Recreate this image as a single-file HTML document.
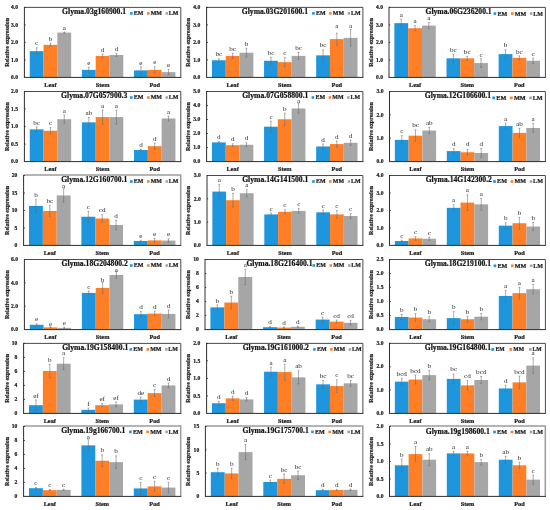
<!DOCTYPE html>
<html lang="en"><head><meta charset="utf-8"><title>Relative expression of Glyma genes</title>
<style>
html,body{margin:0;padding:0;background:#fff;}
body{width:550px;height:510px;overflow:hidden;}
svg{display:block;font-family:"Liberation Serif","DejaVu Serif",serif;}
.fr{fill:none;stroke:#4a4a4a;stroke-width:1;}
.frl{fill:none;stroke:#9c9c9c;stroke-width:1.5;}
.ax{fill:none;stroke:#2e2e2e;stroke-width:1;}
text{stroke-linejoin:round;}
.eb{fill:none;stroke:#6a6a6a;stroke-width:0.55;}
.lt{font-size:7.1px;text-anchor:middle;fill:#2a2a2a;}
.tk{font-size:5.6px;font-weight:bold;text-anchor:end;fill:#222;stroke:#222;stroke-width:.22;}
.yt{font-size:5.95px;font-weight:bold;text-anchor:middle;fill:#222;stroke:#222;stroke-width:.22;}
.ti{font-size:7.65px;font-weight:bold;text-anchor:end;fill:#111;stroke:#111;stroke-width:.2;}
.lg{font-size:6px;font-weight:bold;fill:#222;stroke:#222;stroke-width:.2;}
.ct{font-size:6.3px;font-weight:bold;text-anchor:middle;fill:#222;stroke:#222;stroke-width:.22;}
</style></head>
<body>
<svg width="550" height="510" viewBox="0 0 550 510">
<rect width="550" height="510" fill="#fff"/>
<g class="panel">
<rect x="29.76" y="51.15" width="13.8" height="26.25" fill="#1E96DD"/>
<rect x="43.57" y="44.85" width="13.8" height="32.55" fill="#FF7F27"/>
<rect x="57.37" y="32.6" width="13.8" height="44.8" fill="#A6A6A6"/>
<rect x="81.9" y="69.88" width="13.8" height="7.52" fill="#1E96DD"/>
<rect x="95.7" y="55.88" width="13.8" height="21.52" fill="#FF7F27"/>
<rect x="109.5" y="55" width="13.8" height="22.4" fill="#A6A6A6"/>
<rect x="134.03" y="70.4" width="13.8" height="7" fill="#1E96DD"/>
<rect x="147.83" y="69.88" width="13.8" height="7.52" fill="#FF7F27"/>
<rect x="161.63" y="72.15" width="13.8" height="5.25" fill="#A6A6A6"/>
<path class="eb" d="M36.66 47.83V54.48M35.76 47.83h1.8M35.76 54.48h1.8"/>
<text class="lt" x="36.66" y="45.43">c</text>
<path class="eb" d="M50.47 43.27V46.43M49.57 43.27h1.8M49.57 46.43h1.8"/>
<text class="lt" x="50.47" y="40.88">b</text>
<path class="eb" d="M64.27 32.08V33.12M63.37 32.08h1.8M63.37 33.12h1.8"/>
<text class="lt" x="64.27" y="29.68">a</text>
<path class="eb" d="M88.8 67.25V72.5M87.9 67.25h1.8M87.9 72.5h1.8"/>
<text class="lt" x="88.8" y="64.85">e</text>
<path class="eb" d="M102.6 54.13V57.63M101.7 54.13h1.8M101.7 57.63h1.8"/>
<text class="lt" x="102.6" y="51.73">d</text>
<path class="eb" d="M116.4 53.6V56.4M115.5 53.6h1.8M115.5 56.4h1.8"/>
<text class="lt" x="116.4" y="51.2">d</text>
<path class="eb" d="M140.93 66.9V73.9M140.03 66.9h1.8M140.03 73.9h1.8"/>
<text class="lt" x="140.93" y="64.5">e</text>
<path class="eb" d="M154.73 66.72V73.03M153.83 66.72h1.8M153.83 73.03h1.8"/>
<text class="lt" x="154.73" y="64.32">e</text>
<path class="eb" d="M168.54 69.53V74.78M167.64 69.53h1.8M167.64 74.78h1.8"/>
<text class="lt" x="168.54" y="67.12">e</text>
<path class="fr" d="M24.4 7.4H180.8V77.4"/>
<path class="ax" d="M24.4 6.9V77.4"/>
<path class="ax" d="M23.9 77.4H181.3"/>
<text class="tk" x="18" y="79.1">0.0</text>
<text class="tk" x="18" y="61.6">1.0</text>
<path class="ax" d="M24.4 59.9h1.2"/>
<text class="tk" x="18" y="44.1">2.0</text>
<path class="ax" d="M24.4 42.4h1.2"/>
<text class="tk" x="18" y="26.6">3.0</text>
<path class="ax" d="M24.4 24.9h1.2"/>
<text class="tk" x="18" y="9.1">4.0</text>
<path class="ax" d="M24.4 7.4h1.2"/>
<text class="yt" transform="translate(8.6 42.4) rotate(-90)">Relative expression</text>
<text class="ti" x="126.2" y="14.1">Glyma.03g160900.1</text>
<rect x="130" y="12.1" width="2.6" height="2.6" fill="#1E96DD"/>
<text class="lg" style="font-size:6px" x="133.8" y="15.3">EM</text>
<rect x="147" y="12.1" width="2.6" height="2.6" fill="#FF7F27"/>
<text class="lg" style="font-size:6px" x="150.7" y="15.3">MM</text>
<rect x="165.5" y="12.1" width="2.6" height="2.6" fill="#A6A6A6"/>
<text class="lg" style="font-size:6px" x="168.8" y="15.3">LM</text>
<text class="ct" x="50.47" y="86.7">Leaf</text>
<text class="ct" x="102.6" y="86.7">Stem</text>
<text class="ct" x="154.73" y="86.7">Pod</text>
</g>
<g class="panel">
<rect x="211.96" y="60.25" width="13.79" height="17.15" fill="#1E96DD"/>
<rect x="225.75" y="55.88" width="13.79" height="21.52" fill="#FF7F27"/>
<rect x="239.55" y="52.73" width="13.79" height="24.67" fill="#A6A6A6"/>
<rect x="264.06" y="60.78" width="13.79" height="16.62" fill="#1E96DD"/>
<rect x="277.85" y="62.18" width="13.79" height="15.22" fill="#FF7F27"/>
<rect x="291.65" y="55.88" width="13.79" height="21.52" fill="#A6A6A6"/>
<rect x="316.16" y="55.35" width="13.79" height="22.05" fill="#1E96DD"/>
<rect x="329.95" y="39.08" width="13.79" height="38.32" fill="#FF7F27"/>
<rect x="343.75" y="37.85" width="13.79" height="39.55" fill="#A6A6A6"/>
<path class="eb" d="M218.86 58.68V61.83M217.96 58.68h1.8M217.96 61.83h1.8"/>
<text class="lt" x="218.86" y="56.28">bc</text>
<path class="eb" d="M232.65 53.25V58.5M231.75 53.25h1.8M231.75 58.5h1.8"/>
<text class="lt" x="232.65" y="50.85">bc</text>
<path class="eb" d="M246.44 48.35V57.1M245.54 48.35h1.8M245.54 57.1h1.8"/>
<text class="lt" x="246.44" y="45.95">b</text>
<path class="eb" d="M270.96 57.28V64.28M270.06 57.28h1.8M270.06 64.28h1.8"/>
<text class="lt" x="270.96" y="54.88">bc</text>
<path class="eb" d="M284.75 57.63V66.73M283.85 57.63h1.8M283.85 66.73h1.8"/>
<text class="lt" x="284.75" y="55.23">c</text>
<path class="eb" d="M298.54 52.38V59.38M297.64 52.38h1.8M297.64 59.38h1.8"/>
<text class="lt" x="298.54" y="49.98">bc</text>
<path class="eb" d="M323.06 49.75V60.95M322.16 49.75h1.8M322.16 60.95h1.8"/>
<text class="lt" x="323.06" y="47.35">bc</text>
<path class="eb" d="M336.85 33.13V45.03M335.95 33.13h1.8M335.95 45.03h1.8"/>
<text class="lt" x="336.85" y="28.23">a</text>
<path class="eb" d="M350.64 29.63V46.08M349.74 29.63h1.8M349.74 46.08h1.8"/>
<text class="lt" x="350.64" y="28.03">a</text>
<path class="fr" d="M206.6 7.4H362.9V77.4"/>
<path class="ax" d="M206.6 6.9V77.4"/>
<path class="ax" d="M206.1 77.4H363.4"/>
<text class="tk" x="200.3" y="79.1">0.0</text>
<text class="tk" x="200.3" y="61.6">1.0</text>
<path class="ax" d="M206.6 59.9h1.2"/>
<text class="tk" x="200.3" y="44.1">2.0</text>
<path class="ax" d="M206.6 42.4h1.2"/>
<text class="tk" x="200.3" y="26.6">3.0</text>
<path class="ax" d="M206.6 24.9h1.2"/>
<text class="tk" x="200.3" y="9.1">4.0</text>
<path class="ax" d="M206.6 7.4h1.2"/>
<text class="yt" transform="translate(189.7 42.4) rotate(-90)">Relative expression</text>
<text class="ti" x="308" y="14.1">Glyma.03G201600.1</text>
<rect x="312.1" y="12.1" width="2.6" height="2.6" fill="#1E96DD"/>
<text class="lg" style="font-size:6px" x="315.9" y="15.3">EM</text>
<rect x="329.1" y="12.1" width="2.6" height="2.6" fill="#FF7F27"/>
<text class="lg" style="font-size:6px" x="332.8" y="15.3">MM</text>
<rect x="347.6" y="12.1" width="2.6" height="2.6" fill="#A6A6A6"/>
<text class="lg" style="font-size:6px" x="350.9" y="15.3">LM</text>
<text class="ct" x="232.65" y="86.7">Leaf</text>
<text class="ct" x="284.75" y="86.7">Stem</text>
<text class="ct" x="336.85" y="86.7">Pod</text>
</g>
<g class="panel">
<rect x="394.36" y="23.15" width="13.8" height="54.25" fill="#1E96DD"/>
<rect x="408.17" y="28.23" width="13.8" height="49.18" fill="#FF7F27"/>
<rect x="421.97" y="25.6" width="13.8" height="51.8" fill="#A6A6A6"/>
<rect x="446.5" y="58.33" width="13.8" height="19.08" fill="#1E96DD"/>
<rect x="460.3" y="58.33" width="13.8" height="19.08" fill="#FF7F27"/>
<rect x="474.1" y="63.05" width="13.8" height="14.35" fill="#A6A6A6"/>
<rect x="498.63" y="54.12" width="13.8" height="23.28" fill="#1E96DD"/>
<rect x="512.43" y="57.8" width="13.8" height="19.6" fill="#FF7F27"/>
<rect x="526.23" y="60.78" width="13.8" height="16.62" fill="#A6A6A6"/>
<path class="eb" d="M401.26 19.13V27.18M400.36 19.13h1.8M400.36 27.18h1.8"/>
<text class="lt" x="401.26" y="16.73">a</text>
<path class="eb" d="M415.07 25.6V30.85M414.17 25.6h1.8M414.17 30.85h1.8"/>
<text class="lt" x="415.07" y="23.2">a</text>
<path class="eb" d="M428.87 22.63V28.58M427.97 22.63h1.8M427.97 28.58h1.8"/>
<text class="lt" x="428.87" y="20.23">a</text>
<path class="eb" d="M453.4 54.12V62.53M452.5 54.12h1.8M452.5 62.53h1.8"/>
<text class="lt" x="453.4" y="51.73">bc</text>
<path class="eb" d="M467.2 56.4V60.25M466.3 56.4h1.8M466.3 60.25h1.8"/>
<text class="lt" x="467.2" y="54">bc</text>
<path class="eb" d="M481 58.68V67.43M480.1 58.68h1.8M480.1 67.43h1.8"/>
<text class="lt" x="481" y="57.28">c</text>
<path class="eb" d="M505.53 49.75V58.5M504.63 49.75h1.8M504.63 58.5h1.8"/>
<text class="lt" x="505.53" y="47.35">b</text>
<path class="eb" d="M519.33 55.88V59.73M518.43 55.88h1.8M518.43 59.73h1.8"/>
<text class="lt" x="519.33" y="54.48">bc</text>
<path class="eb" d="M533.14 58.15V63.4M532.24 58.15h1.8M532.24 63.4h1.8"/>
<text class="lt" x="533.14" y="55.75">c</text>
<path class="fr" d="M389 7.4H545.4V77.4"/>
<path class="ax" d="M389 6.9V77.4"/>
<path class="ax" d="M388.5 77.4H545.9"/>
<text class="tk" x="383" y="79.1">0.0</text>
<text class="tk" x="383" y="61.6">1.0</text>
<path class="ax" d="M389 59.9h1.2"/>
<text class="tk" x="383" y="44.1">2.0</text>
<path class="ax" d="M389 42.4h1.2"/>
<text class="tk" x="383" y="26.6">3.0</text>
<path class="ax" d="M389 24.9h1.2"/>
<text class="tk" x="383" y="9.1">4.0</text>
<path class="ax" d="M389 7.4h1.2"/>
<text class="yt" transform="translate(373.4 42.4) rotate(-90)">Relative expression</text>
<text class="ti" x="491.7" y="14.1">Glyma.06G236200.1</text>
<rect x="493.62" y="12.27" width="2.65" height="2.65" fill="#1E96DD"/>
<text class="lg" style="font-size:6.12px" x="497.5" y="15.54">EM</text>
<rect x="510.96" y="12.27" width="2.65" height="2.65" fill="#FF7F27"/>
<text class="lg" style="font-size:6.12px" x="514.74" y="15.54">MM</text>
<rect x="529.83" y="12.27" width="2.65" height="2.65" fill="#A6A6A6"/>
<text class="lg" style="font-size:6.12px" x="533.2" y="15.54">LM</text>
<text class="ct" x="415.07" y="86.7">Leaf</text>
<text class="ct" x="467.2" y="86.7">Stem</text>
<text class="ct" x="519.33" y="86.7">Pod</text>
</g>
<g class="panel">
<rect x="29.76" y="129.35" width="13.8" height="32.25" fill="#1E96DD"/>
<rect x="43.57" y="130.76" width="13.8" height="30.84" fill="#FF7F27"/>
<rect x="57.37" y="119.19" width="13.8" height="42.41" fill="#A6A6A6"/>
<rect x="81.9" y="122.34" width="13.8" height="39.26" fill="#1E96DD"/>
<rect x="95.7" y="117.09" width="13.8" height="44.51" fill="#FF7F27"/>
<rect x="109.5" y="117.09" width="13.8" height="44.51" fill="#A6A6A6"/>
<rect x="134.03" y="150.03" width="13.8" height="11.57" fill="#1E96DD"/>
<rect x="147.83" y="146.18" width="13.8" height="15.42" fill="#FF7F27"/>
<rect x="161.63" y="118.49" width="13.8" height="43.11" fill="#A6A6A6"/>
<path class="eb" d="M36.66 126.9V131.81M35.76 126.9h1.8M35.76 131.81h1.8"/>
<text class="lt" x="36.66" y="124.5">bc</text>
<path class="eb" d="M50.47 127.6V133.91M49.57 127.6h1.8M49.57 133.91h1.8"/>
<text class="lt" x="50.47" y="125.2">c</text>
<path class="eb" d="M64.27 114.98V123.4M63.37 114.98h1.8M63.37 123.4h1.8"/>
<text class="lt" x="64.27" y="112.58">a</text>
<path class="eb" d="M88.8 117.44V127.25M87.9 117.44h1.8M87.9 127.25h1.8"/>
<text class="lt" x="88.8" y="115.04">ab</text>
<path class="eb" d="M102.6 110.08V124.1M101.7 110.08h1.8M101.7 124.1h1.8"/>
<text class="lt" x="102.6" y="107.68">a</text>
<path class="eb" d="M116.4 110.08V124.1M115.5 110.08h1.8M115.5 124.1h1.8"/>
<text class="lt" x="116.4" y="107.68">a</text>
<path class="eb" d="M140.93 149.33V150.73M140.03 149.33h1.8M140.03 150.73h1.8"/>
<text class="lt" x="140.93" y="146.93">d</text>
<path class="eb" d="M154.73 143.02V149.33M153.83 143.02h1.8M153.83 149.33h1.8"/>
<text class="lt" x="154.73" y="140.62">d</text>
<path class="eb" d="M168.54 116.03V120.94M167.64 116.03h1.8M167.64 120.94h1.8"/>
<text class="lt" x="168.54" y="113.63">a</text>
<path class="fr" d="M24.4 91.5H180.8V161.6"/>
<path class="ax" d="M24.4 91V161.6"/>
<path class="ax" d="M23.9 161.6H181.3"/>
<text class="tk" x="18" y="163.3">0.0</text>
<text class="tk" x="18" y="145.77">0.5</text>
<path class="ax" d="M24.4 144.07h1.2"/>
<text class="tk" x="18" y="128.25">1.0</text>
<path class="ax" d="M24.4 126.55h1.2"/>
<text class="tk" x="18" y="110.73">1.5</text>
<path class="ax" d="M24.4 109.03h1.2"/>
<text class="tk" x="18" y="93.2">2.0</text>
<path class="ax" d="M24.4 91.5h1.2"/>
<text class="yt" transform="translate(8.6 126.55) rotate(-90)">Relative expression</text>
<text class="ti" x="127.3" y="98.2">Glyma.07G057900.3</text>
<rect x="130" y="96.2" width="2.6" height="2.6" fill="#1E96DD"/>
<text class="lg" style="font-size:6px" x="133.8" y="99.4">EM</text>
<rect x="147" y="96.2" width="2.6" height="2.6" fill="#FF7F27"/>
<text class="lg" style="font-size:6px" x="150.7" y="99.4">MM</text>
<rect x="165.5" y="96.2" width="2.6" height="2.6" fill="#A6A6A6"/>
<text class="lg" style="font-size:6px" x="168.8" y="99.4">LM</text>
<text class="ct" x="50.47" y="170.9">Leaf</text>
<text class="ct" x="102.6" y="170.9">Stem</text>
<text class="ct" x="154.73" y="170.9">Pod</text>
</g>
<g class="panel">
<rect x="211.96" y="142.39" width="13.79" height="19.21" fill="#1E96DD"/>
<rect x="225.75" y="145.2" width="13.79" height="16.4" fill="#FF7F27"/>
<rect x="239.55" y="144.78" width="13.79" height="16.82" fill="#A6A6A6"/>
<rect x="264.06" y="126.69" width="13.79" height="34.91" fill="#1E96DD"/>
<rect x="277.85" y="119.26" width="13.79" height="42.34" fill="#FF7F27"/>
<rect x="291.65" y="108.46" width="13.79" height="53.14" fill="#A6A6A6"/>
<rect x="316.16" y="146.46" width="13.79" height="15.14" fill="#1E96DD"/>
<rect x="329.95" y="144.07" width="13.79" height="17.52" fill="#FF7F27"/>
<rect x="343.75" y="142.81" width="13.79" height="18.79" fill="#A6A6A6"/>
<path class="eb" d="M218.86 141.69V143.09M217.96 141.69h1.8M217.96 143.09h1.8"/>
<text class="lt" x="218.86" y="139.29">d</text>
<path class="eb" d="M232.65 143.79V146.6M231.75 143.79h1.8M231.75 146.6h1.8"/>
<text class="lt" x="232.65" y="141.39">d</text>
<path class="eb" d="M246.44 142.81V146.74M245.54 142.81h1.8M245.54 146.74h1.8"/>
<text class="lt" x="246.44" y="140.41">d</text>
<path class="eb" d="M270.96 121.22V132.16M270.06 121.22h1.8M270.06 132.16h1.8"/>
<text class="lt" x="270.96" y="118.82">c</text>
<path class="eb" d="M284.75 113.23V125.29M283.85 113.23h1.8M283.85 125.29h1.8"/>
<text class="lt" x="284.75" y="110.83">b</text>
<path class="eb" d="M298.54 103.7V113.23M297.64 103.7h1.8M297.64 113.23h1.8"/>
<text class="lt" x="298.54" y="103.3">a</text>
<path class="eb" d="M323.06 144.07V148.84M322.16 144.07h1.8M322.16 148.84h1.8"/>
<text class="lt" x="323.06" y="141.67">d</text>
<path class="eb" d="M336.85 140.99V147.16M335.95 140.99h1.8M335.95 147.16h1.8"/>
<text class="lt" x="336.85" y="138.59">d</text>
<path class="eb" d="M350.64 140.15V145.48M349.74 140.15h1.8M349.74 145.48h1.8"/>
<text class="lt" x="350.64" y="137.75">d</text>
<path class="fr" d="M206.6 91.5H362.9V161.6"/>
<path class="ax" d="M206.6 91V161.6"/>
<path class="ax" d="M206.1 161.6H363.4"/>
<text class="tk" x="200.3" y="163.3">0.0</text>
<text class="tk" x="200.3" y="149.28">1.0</text>
<path class="ax" d="M206.6 147.58h1.2"/>
<text class="tk" x="200.3" y="135.26">2.0</text>
<path class="ax" d="M206.6 133.56h1.2"/>
<text class="tk" x="200.3" y="121.24">3.0</text>
<path class="ax" d="M206.6 119.54h1.2"/>
<text class="tk" x="200.3" y="107.22">4.0</text>
<path class="ax" d="M206.6 105.52h1.2"/>
<text class="tk" x="200.3" y="93.2">5.0</text>
<path class="ax" d="M206.6 91.5h1.2"/>
<text class="yt" transform="translate(189.7 126.55) rotate(-90)">Relative expression</text>
<text class="ti" x="308.4" y="98.2">Glyma.07G058800.1</text>
<rect x="311.6" y="96.2" width="2.6" height="2.6" fill="#1E96DD"/>
<text class="lg" style="font-size:6px" x="315.4" y="99.4">EM</text>
<rect x="328.6" y="96.2" width="2.6" height="2.6" fill="#FF7F27"/>
<text class="lg" style="font-size:6px" x="332.3" y="99.4">MM</text>
<rect x="347.1" y="96.2" width="2.6" height="2.6" fill="#A6A6A6"/>
<text class="lg" style="font-size:6px" x="350.4" y="99.4">LM</text>
<text class="ct" x="232.65" y="170.9">Leaf</text>
<text class="ct" x="284.75" y="170.9">Stem</text>
<text class="ct" x="336.85" y="170.9">Pod</text>
</g>
<g class="panel">
<rect x="394.85" y="139.87" width="13.76" height="21.73" fill="#1E96DD"/>
<rect x="408.6" y="135.66" width="13.76" height="25.94" fill="#FF7F27"/>
<rect x="422.36" y="130.52" width="13.76" height="31.08" fill="#A6A6A6"/>
<rect x="446.81" y="151.09" width="13.76" height="10.51" fill="#1E96DD"/>
<rect x="460.57" y="152.25" width="13.76" height="9.35" fill="#FF7F27"/>
<rect x="474.33" y="152.95" width="13.76" height="8.65" fill="#A6A6A6"/>
<rect x="498.78" y="126.08" width="13.76" height="35.52" fill="#1E96DD"/>
<rect x="512.54" y="132.86" width="13.76" height="28.74" fill="#FF7F27"/>
<rect x="526.3" y="127.95" width="13.76" height="33.65" fill="#A6A6A6"/>
<path class="eb" d="M401.72 135.66V144.07M400.82 135.66h1.8M400.82 144.07h1.8"/>
<text class="lt" x="401.72" y="133.26">c</text>
<path class="eb" d="M415.48 129.82V141.5M414.58 129.82h1.8M414.58 141.5h1.8"/>
<text class="lt" x="415.48" y="127.42">bc</text>
<path class="eb" d="M429.24 127.25V133.79M428.34 127.25h1.8M428.34 133.79h1.8"/>
<text class="lt" x="429.24" y="124.85">ab</text>
<path class="eb" d="M453.69 148.75V153.42M452.79 148.75h1.8M452.79 153.42h1.8"/>
<text class="lt" x="453.69" y="146.35">d</text>
<path class="eb" d="M467.45 149.45V155.06M466.55 149.45h1.8M466.55 155.06h1.8"/>
<text class="lt" x="467.45" y="146.05">d</text>
<path class="eb" d="M481.21 148.51V157.39M480.31 148.51h1.8M480.31 157.39h1.8"/>
<text class="lt" x="481.21" y="146.11">d</text>
<path class="eb" d="M505.66 123.05V129.12M504.76 123.05h1.8M504.76 129.12h1.8"/>
<text class="lt" x="505.66" y="120.64">a</text>
<path class="eb" d="M519.42 128.19V137.53M518.52 128.19h1.8M518.52 137.53h1.8"/>
<text class="lt" x="519.42" y="125.79">ab</text>
<path class="eb" d="M533.18 123.51V132.39M532.28 123.51h1.8M532.28 132.39h1.8"/>
<text class="lt" x="533.18" y="121.11">a</text>
<path class="fr" d="M389.5 91.5H545.4V161.6"/>
<path class="ax" d="M389.5 91V161.6"/>
<path class="ax" d="M389 161.6H545.9"/>
<text class="tk" x="383.5" y="163.3">0.0</text>
<text class="tk" x="383.5" y="139.93">1.0</text>
<path class="ax" d="M389.5 138.23h1.2"/>
<text class="tk" x="383.5" y="116.57">2.0</text>
<path class="ax" d="M389.5 114.87h1.2"/>
<text class="tk" x="383.5" y="93.2">3.0</text>
<path class="ax" d="M389.5 91.5h1.2"/>
<text class="yt" transform="translate(373.4 126.55) rotate(-90)">Relative expression</text>
<text class="ti" x="491" y="98.2">Glyma.12G106600.1</text>
<rect x="492.35" y="96.55" width="2.7" height="2.7" fill="#1E96DD"/>
<text class="lg" style="font-size:6.24px" x="496.3" y="99.88">EM</text>
<rect x="510.03" y="96.55" width="2.7" height="2.7" fill="#FF7F27"/>
<text class="lg" style="font-size:6.24px" x="513.88" y="99.88">MM</text>
<rect x="529.27" y="96.55" width="2.7" height="2.7" fill="#A6A6A6"/>
<text class="lg" style="font-size:6.24px" x="532.7" y="99.88">LM</text>
<text class="ct" x="415.48" y="170.9">Leaf</text>
<text class="ct" x="467.45" y="170.9">Stem</text>
<text class="ct" x="519.42" y="170.9">Pod</text>
</g>
<g class="panel">
<rect x="28.99" y="205.91" width="13.87" height="39.49" fill="#1E96DD"/>
<rect x="42.86" y="210.94" width="13.87" height="34.46" fill="#FF7F27"/>
<rect x="56.74" y="195.42" width="13.87" height="49.98" fill="#A6A6A6"/>
<rect x="81.39" y="216.74" width="13.87" height="28.66" fill="#1E96DD"/>
<rect x="95.26" y="218.49" width="13.87" height="26.91" fill="#FF7F27"/>
<rect x="109.14" y="224.95" width="13.87" height="20.45" fill="#A6A6A6"/>
<rect x="133.79" y="241" width="13.87" height="4.4" fill="#1E96DD"/>
<rect x="147.66" y="240.4" width="13.87" height="5" fill="#FF7F27"/>
<rect x="161.54" y="240.58" width="13.87" height="4.82" fill="#A6A6A6"/>
<path class="eb" d="M35.93 199.62V212.2M35.03 199.62h1.8M35.03 212.2h1.8"/>
<text class="lt" x="35.93" y="197.22">b</text>
<path class="eb" d="M49.8 205.35V216.53M48.9 205.35h1.8M48.9 216.53h1.8"/>
<text class="lt" x="49.8" y="202.95">bc</text>
<path class="eb" d="M63.67 188.78V202.06M62.77 188.78h1.8M62.77 202.06h1.8"/>
<text class="lt" x="63.67" y="187.58">a</text>
<path class="eb" d="M88.33 211.15V222.33M87.43 211.15h1.8M87.43 222.33h1.8"/>
<text class="lt" x="88.33" y="208.75">c</text>
<path class="eb" d="M102.2 214.64V222.33M101.3 214.64h1.8M101.3 222.33h1.8"/>
<text class="lt" x="102.2" y="212.24">cd</text>
<path class="eb" d="M116.07 220.06V229.85M115.17 220.06h1.8M115.17 229.85h1.8"/>
<text class="lt" x="116.07" y="217.66">d</text>
<path class="eb" d="M140.73 240.3V241.7M139.83 240.3h1.8M139.83 241.7h1.8"/>
<text class="lt" x="140.73" y="237.9">e</text>
<path class="eb" d="M154.6 238.31V242.5M153.7 238.31h1.8M153.7 242.5h1.8"/>
<text class="lt" x="154.6" y="235.91">e</text>
<path class="eb" d="M168.47 238.83V242.32M167.57 238.83h1.8M167.57 242.32h1.8"/>
<text class="lt" x="168.47" y="236.43">e</text>
<path class="frl" d="M23.6 174.9H180.7V245.4"/>
<path class="ax" d="M23.6 175V245.4"/>
<path class="ax" d="M23.1 245.4H181.3"/>
<text class="tk" x="17.4" y="247.1">0</text>
<text class="tk" x="17.4" y="229.62">5</text>
<path class="ax" d="M23.6 227.93h1.2"/>
<text class="tk" x="17.4" y="212.15">10</text>
<path class="ax" d="M23.6 210.45h1.2"/>
<text class="tk" x="17.4" y="194.67">15</text>
<path class="ax" d="M23.6 192.97h1.2"/>
<text class="tk" x="17.4" y="177.2">20</text>
<path class="ax" d="M23.6 175.5h1.2"/>
<text class="yt" transform="translate(8.6 210.45) rotate(-90)">Relative expression</text>
<text class="ti" x="127.4" y="182.2">Glyma.12G160700.1</text>
<rect x="130" y="180.2" width="2.6" height="2.6" fill="#1E96DD"/>
<text class="lg" style="font-size:6px" x="133.8" y="183.4">EM</text>
<rect x="147" y="180.2" width="2.6" height="2.6" fill="#FF7F27"/>
<text class="lg" style="font-size:6px" x="150.7" y="183.4">MM</text>
<rect x="165.5" y="180.2" width="2.6" height="2.6" fill="#A6A6A6"/>
<text class="lg" style="font-size:6px" x="168.8" y="183.4">LM</text>
<text class="ct" x="49.8" y="254.7">Leaf</text>
<text class="ct" x="102.2" y="254.7">Stem</text>
<text class="ct" x="154.6" y="254.7">Pod</text>
</g>
<g class="panel">
<rect x="212.35" y="191.58" width="13.76" height="53.82" fill="#1E96DD"/>
<rect x="226.1" y="200.2" width="13.76" height="45.2" fill="#FF7F27"/>
<rect x="239.86" y="193.21" width="13.76" height="52.19" fill="#A6A6A6"/>
<rect x="264.31" y="214.41" width="13.76" height="30.99" fill="#1E96DD"/>
<rect x="278.07" y="211.85" width="13.76" height="33.55" fill="#FF7F27"/>
<rect x="291.83" y="210.92" width="13.76" height="34.48" fill="#A6A6A6"/>
<rect x="316.28" y="212.31" width="13.76" height="33.09" fill="#1E96DD"/>
<rect x="330.04" y="214.41" width="13.76" height="30.99" fill="#FF7F27"/>
<rect x="343.8" y="216.04" width="13.76" height="29.36" fill="#A6A6A6"/>
<path class="eb" d="M219.22 184.35V198.8M218.32 184.35h1.8M218.32 198.8h1.8"/>
<text class="lt" x="219.22" y="181.95">a</text>
<path class="eb" d="M232.98 193.44V206.96M232.08 193.44h1.8M232.08 206.96h1.8"/>
<text class="lt" x="232.98" y="191.04">b</text>
<path class="eb" d="M246.74 189.71V196.7M245.84 189.71h1.8M245.84 196.7h1.8"/>
<text class="lt" x="246.74" y="187.31">a</text>
<path class="eb" d="M271.19 213.01V215.81M270.29 213.01h1.8M270.29 215.81h1.8"/>
<text class="lt" x="271.19" y="210.61">c</text>
<path class="eb" d="M284.95 209.75V213.95M284.05 209.75h1.8M284.05 213.95h1.8"/>
<text class="lt" x="284.95" y="207.35">c</text>
<path class="eb" d="M298.71 208.59V213.25M297.81 208.59h1.8M297.81 213.25h1.8"/>
<text class="lt" x="298.71" y="206.19">c</text>
<path class="eb" d="M323.16 209.98V214.64M322.26 209.98h1.8M322.26 214.64h1.8"/>
<text class="lt" x="323.16" y="207.58">c</text>
<path class="eb" d="M336.92 210.68V218.14M336.02 210.68h1.8M336.02 218.14h1.8"/>
<text class="lt" x="336.92" y="208.28">c</text>
<path class="eb" d="M350.68 213.71V218.37M349.78 213.71h1.8M349.78 218.37h1.8"/>
<text class="lt" x="350.68" y="211.31">c</text>
<path class="fr" d="M207 175.5H362.9V245.4"/>
<path class="ax" d="M207 175V245.4"/>
<path class="ax" d="M206.5 245.4H363.4"/>
<text class="tk" x="200.7" y="247.1">0.0</text>
<text class="tk" x="200.7" y="223.8">1.0</text>
<path class="ax" d="M207 222.1h1.2"/>
<text class="tk" x="200.7" y="200.5">2.0</text>
<path class="ax" d="M207 198.8h1.2"/>
<text class="tk" x="200.7" y="177.2">3.0</text>
<path class="ax" d="M207 175.5h1.2"/>
<text class="yt" transform="translate(189.7 210.45) rotate(-90)">Relative expression</text>
<text class="ti" x="308.4" y="182.2">Glyma.14G141500.1</text>
<rect x="312.1" y="180.2" width="2.6" height="2.6" fill="#1E96DD"/>
<text class="lg" style="font-size:6px" x="315.9" y="183.4">EM</text>
<rect x="329.1" y="180.2" width="2.6" height="2.6" fill="#FF7F27"/>
<text class="lg" style="font-size:6px" x="332.8" y="183.4">MM</text>
<rect x="347.6" y="180.2" width="2.6" height="2.6" fill="#A6A6A6"/>
<text class="lg" style="font-size:6px" x="350.9" y="183.4">LM</text>
<text class="ct" x="232.98" y="254.7">Leaf</text>
<text class="ct" x="284.95" y="254.7">Stem</text>
<text class="ct" x="336.92" y="254.7">Pod</text>
</g>
<g class="panel">
<rect x="394.85" y="241.03" width="13.76" height="4.37" fill="#1E96DD"/>
<rect x="408.6" y="238.41" width="13.76" height="6.99" fill="#FF7F27"/>
<rect x="422.36" y="238.76" width="13.76" height="6.64" fill="#A6A6A6"/>
<rect x="446.81" y="207.83" width="13.76" height="37.57" fill="#1E96DD"/>
<rect x="460.57" y="202.59" width="13.76" height="42.81" fill="#FF7F27"/>
<rect x="474.33" y="204.33" width="13.76" height="41.07" fill="#A6A6A6"/>
<rect x="498.78" y="225.65" width="13.76" height="19.75" fill="#1E96DD"/>
<rect x="512.54" y="223.21" width="13.76" height="22.19" fill="#FF7F27"/>
<rect x="526.3" y="226.53" width="13.76" height="18.87" fill="#A6A6A6"/>
<path class="eb" d="M401.72 240.16V241.91M400.82 240.16h1.8M400.82 241.91h1.8"/>
<text class="lt" x="401.72" y="237.76">c</text>
<path class="eb" d="M415.48 236.66V240.16M414.58 236.66h1.8M414.58 240.16h1.8"/>
<text class="lt" x="415.48" y="234.26">c</text>
<path class="eb" d="M429.24 237.19V240.33M428.34 237.19h1.8M428.34 240.33h1.8"/>
<text class="lt" x="429.24" y="234.79">c</text>
<path class="eb" d="M453.69 204.68V210.97M452.79 204.68h1.8M452.79 210.97h1.8"/>
<text class="lt" x="453.69" y="202.28">a</text>
<path class="eb" d="M467.45 194.72V210.45M466.55 194.72h1.8M466.55 210.45h1.8"/>
<text class="lt" x="467.45" y="192.32">a</text>
<path class="eb" d="M481.21 198.57V210.1M480.31 198.57h1.8M480.31 210.1h1.8"/>
<text class="lt" x="481.21" y="196.17">a</text>
<path class="eb" d="M505.66 222.68V228.62M504.76 222.68h1.8M504.76 228.62h1.8"/>
<text class="lt" x="505.66" y="220.28">b</text>
<path class="eb" d="M519.42 217.27V229.15M518.52 217.27h1.8M518.52 229.15h1.8"/>
<text class="lt" x="519.42" y="214.87">b</text>
<path class="eb" d="M533.18 222.51V230.55M532.28 222.51h1.8M532.28 230.55h1.8"/>
<text class="lt" x="533.18" y="220.11">b</text>
<path class="fr" d="M389.5 175.5H545.4V245.4"/>
<path class="ax" d="M389.5 175V245.4"/>
<path class="ax" d="M389 245.4H545.9"/>
<text class="tk" x="383.5" y="247.1">0.0</text>
<text class="tk" x="383.5" y="229.62">1.0</text>
<path class="ax" d="M389.5 227.93h1.2"/>
<text class="tk" x="383.5" y="212.15">2.0</text>
<path class="ax" d="M389.5 210.45h1.2"/>
<text class="tk" x="383.5" y="194.67">3.0</text>
<path class="ax" d="M389.5 192.97h1.2"/>
<text class="tk" x="383.5" y="177.2">4.0</text>
<path class="ax" d="M389.5 175.5h1.2"/>
<text class="yt" transform="translate(373.4 210.45) rotate(-90)">Relative expression</text>
<text class="ti" x="491.9" y="182.2">Glyma.14G142300.2</text>
<rect x="493.14" y="180.16" width="2.68" height="2.68" fill="#1E96DD"/>
<text class="lg" style="font-size:6.18px" x="497.05" y="183.46">EM</text>
<rect x="510.65" y="180.16" width="2.68" height="2.68" fill="#FF7F27"/>
<text class="lg" style="font-size:6.18px" x="514.46" y="183.46">MM</text>
<rect x="529.7" y="180.16" width="2.68" height="2.68" fill="#A6A6A6"/>
<text class="lg" style="font-size:6.18px" x="533.1" y="183.46">LM</text>
<text class="ct" x="415.48" y="254.7">Leaf</text>
<text class="ct" x="467.45" y="254.7">Stem</text>
<text class="ct" x="519.42" y="254.7">Pod</text>
</g>
<g class="panel">
<rect x="29.76" y="324.81" width="13.8" height="4.79" fill="#1E96DD"/>
<rect x="43.57" y="327.38" width="13.8" height="2.22" fill="#FF7F27"/>
<rect x="57.37" y="327.85" width="13.8" height="1.75" fill="#A6A6A6"/>
<rect x="81.9" y="292.91" width="13.8" height="36.69" fill="#1E96DD"/>
<rect x="95.7" y="287.89" width="13.8" height="41.71" fill="#FF7F27"/>
<rect x="109.5" y="274.92" width="13.8" height="54.68" fill="#A6A6A6"/>
<rect x="134.03" y="314.18" width="13.8" height="15.42" fill="#1E96DD"/>
<rect x="147.83" y="313.59" width="13.8" height="16.01" fill="#FF7F27"/>
<rect x="161.63" y="313.94" width="13.8" height="15.66" fill="#A6A6A6"/>
<path class="eb" d="M36.66 323.88V325.74M35.76 323.88h1.8M35.76 325.74h1.8"/>
<text class="lt" x="36.66" y="321.48">e</text>
<path class="eb" d="M50.47 326.8V327.96M49.57 326.8h1.8M49.57 327.96h1.8"/>
<text class="lt" x="50.47" y="325.8">e</text>
<path class="eb" d="M64.27 327.26V328.43M63.37 327.26h1.8M63.37 328.43h1.8"/>
<text class="lt" x="64.27" y="324.86">e</text>
<path class="eb" d="M88.8 290.93V294.9M87.9 290.93h1.8M87.9 294.9h1.8"/>
<text class="lt" x="88.8" y="288.53">c</text>
<path class="eb" d="M102.6 282.28V293.5M101.7 282.28h1.8M101.7 293.5h1.8"/>
<text class="lt" x="102.6" y="281.88">b</text>
<path class="eb" d="M116.4 271.77V278.08M115.5 271.77h1.8M115.5 278.08h1.8"/>
<text class="lt" x="116.4" y="271.87">a</text>
<path class="eb" d="M140.93 311.61V316.75M140.03 311.61h1.8M140.03 316.75h1.8"/>
<text class="lt" x="140.93" y="309.21">d</text>
<path class="eb" d="M154.73 311.26V315.93M153.83 311.26h1.8M153.83 315.93h1.8"/>
<text class="lt" x="154.73" y="308.86">d</text>
<path class="eb" d="M168.54 309.97V317.92M167.64 309.97h1.8M167.64 317.92h1.8"/>
<text class="lt" x="168.54" y="307.57">d</text>
<path class="fr" d="M24.4 259.5H180.8V329.6"/>
<path class="ax" d="M24.4 259V329.6"/>
<path class="ax" d="M23.9 329.6H181.3"/>
<text class="tk" x="18" y="331.3">0.0</text>
<text class="tk" x="18" y="307.93">2.0</text>
<path class="ax" d="M24.4 306.23h1.2"/>
<text class="tk" x="18" y="284.57">4.0</text>
<path class="ax" d="M24.4 282.87h1.2"/>
<text class="tk" x="18" y="261.2">6.0</text>
<path class="ax" d="M24.4 259.5h1.2"/>
<text class="yt" transform="translate(8.6 294.55) rotate(-90)">Relative expression</text>
<text class="ti" x="127.8" y="266.2">Glyma.18G204800.2</text>
<rect x="130" y="264.2" width="2.6" height="2.6" fill="#1E96DD"/>
<text class="lg" style="font-size:6px" x="133.8" y="267.4">EM</text>
<rect x="147" y="264.2" width="2.6" height="2.6" fill="#FF7F27"/>
<text class="lg" style="font-size:6px" x="150.7" y="267.4">MM</text>
<rect x="165.5" y="264.2" width="2.6" height="2.6" fill="#A6A6A6"/>
<text class="lg" style="font-size:6px" x="168.8" y="267.4">LM</text>
<text class="ct" x="50.47" y="338.9">Leaf</text>
<text class="ct" x="102.6" y="338.9">Stem</text>
<text class="ct" x="154.73" y="338.9">Pod</text>
</g>
<g class="panel">
<rect x="210.41" y="307.38" width="13.94" height="22.22" fill="#1E96DD"/>
<rect x="224.35" y="302.54" width="13.94" height="27.06" fill="#FF7F27"/>
<rect x="238.28" y="277.02" width="13.94" height="52.58" fill="#A6A6A6"/>
<rect x="263.05" y="327.22" width="13.94" height="2.38" fill="#1E96DD"/>
<rect x="276.98" y="327.57" width="13.94" height="2.03" fill="#FF7F27"/>
<rect x="290.92" y="326.8" width="13.94" height="2.8" fill="#A6A6A6"/>
<rect x="315.68" y="319.58" width="13.94" height="10.02" fill="#1E96DD"/>
<rect x="329.62" y="321.61" width="13.94" height="7.99" fill="#FF7F27"/>
<rect x="343.55" y="322.8" width="13.94" height="6.8" fill="#A6A6A6"/>
<path class="eb" d="M217.38 304.92V309.83M216.48 304.92h1.8M216.48 309.83h1.8"/>
<text class="lt" x="217.38" y="302.52">b</text>
<path class="eb" d="M231.32 296.23V308.85M230.42 296.23h1.8M230.42 308.85h1.8"/>
<text class="lt" x="231.32" y="293.83">b</text>
<path class="eb" d="M245.25 269.31V284.74M244.35 269.31h1.8M244.35 284.74h1.8"/>
<text class="lt" x="245.25" y="266.91">a</text>
<path class="eb" d="M270.01 326.66V327.78M269.11 326.66h1.8M269.11 327.78h1.8"/>
<text class="lt" x="270.01" y="324.26">d</text>
<path class="eb" d="M283.95 327.01V328.13M283.05 327.01h1.8M283.05 328.13h1.8"/>
<text class="lt" x="283.95" y="324.61">d</text>
<path class="eb" d="M297.89 326.1V327.5M296.99 326.1h1.8M296.99 327.5h1.8"/>
<text class="lt" x="297.89" y="323.7">d</text>
<path class="eb" d="M322.65 317.12V322.03M321.75 317.12h1.8M321.75 322.03h1.8"/>
<text class="lt" x="322.65" y="314.72">c</text>
<path class="eb" d="M336.58 320.07V323.15M335.68 320.07h1.8M335.68 323.15h1.8"/>
<text class="lt" x="336.58" y="317.67">cd</text>
<path class="eb" d="M350.52 320.42V325.18M349.62 320.42h1.8M349.62 325.18h1.8"/>
<text class="lt" x="350.52" y="318.02">cd</text>
<path class="fr" d="M205 259.5H362.9V329.6"/>
<path class="ax" d="M205 259V329.6"/>
<path class="ax" d="M204.5 329.6H363.4"/>
<text class="tk" x="198.8" y="331.3">0</text>
<text class="tk" x="198.8" y="317.28">2</text>
<path class="ax" d="M205 315.58h1.2"/>
<text class="tk" x="198.8" y="303.26">4</text>
<path class="ax" d="M205 301.56h1.2"/>
<text class="tk" x="198.8" y="289.24">6</text>
<path class="ax" d="M205 287.54h1.2"/>
<text class="tk" x="198.8" y="275.22">8</text>
<path class="ax" d="M205 273.52h1.2"/>
<text class="tk" x="198.8" y="261.2">10</text>
<path class="ax" d="M205 259.5h1.2"/>
<text class="yt" transform="translate(189.7 294.55) rotate(-90)">Relative expression</text>
<text class="ti" x="312.6" y="266.2">Glyma.18G216400.1</text>
<rect x="312.5" y="264.2" width="2.6" height="2.6" fill="#1E96DD"/>
<text class="lg" style="font-size:6px" x="316.3" y="267.4">EM</text>
<rect x="329.5" y="264.2" width="2.6" height="2.6" fill="#FF7F27"/>
<text class="lg" style="font-size:6px" x="333.2" y="267.4">MM</text>
<rect x="348" y="264.2" width="2.6" height="2.6" fill="#A6A6A6"/>
<text class="lg" style="font-size:6px" x="351.3" y="267.4">LM</text>
<text class="ct" x="231.32" y="338.9">Leaf</text>
<text class="ct" x="283.95" y="338.9">Stem</text>
<text class="ct" x="336.58" y="338.9">Pod</text>
</g>
<g class="panel">
<rect x="394.85" y="316.98" width="13.76" height="12.62" fill="#1E96DD"/>
<rect x="408.6" y="317.54" width="13.76" height="12.06" fill="#FF7F27"/>
<rect x="422.36" y="319.23" width="13.76" height="10.37" fill="#A6A6A6"/>
<rect x="446.81" y="318.1" width="13.76" height="11.5" fill="#1E96DD"/>
<rect x="460.57" y="319.23" width="13.76" height="10.37" fill="#FF7F27"/>
<rect x="474.33" y="316.7" width="13.76" height="12.9" fill="#A6A6A6"/>
<rect x="498.78" y="295.95" width="13.76" height="33.65" fill="#1E96DD"/>
<rect x="512.54" y="293.15" width="13.76" height="36.45" fill="#FF7F27"/>
<rect x="526.3" y="289.22" width="13.76" height="40.38" fill="#A6A6A6"/>
<path class="eb" d="M401.72 314.46V319.51M400.82 314.46h1.8M400.82 319.51h1.8"/>
<text class="lt" x="401.72" y="312.06">b</text>
<path class="eb" d="M415.48 313.62V321.47M414.58 313.62h1.8M414.58 321.47h1.8"/>
<text class="lt" x="415.48" y="311.22">b</text>
<path class="eb" d="M429.24 316.7V321.75M428.34 316.7h1.8M428.34 321.75h1.8"/>
<text class="lt" x="429.24" y="314.3">b</text>
<path class="eb" d="M453.69 311.65V324.55M452.79 311.65h1.8M452.79 324.55h1.8"/>
<text class="lt" x="453.69" y="309.25">b</text>
<path class="eb" d="M467.45 316.42V322.03M466.55 316.42h1.8M466.55 322.03h1.8"/>
<text class="lt" x="467.45" y="314.02">b</text>
<path class="eb" d="M481.21 313.62V319.79M480.31 313.62h1.8M480.31 319.79h1.8"/>
<text class="lt" x="481.21" y="311.22">b</text>
<path class="eb" d="M505.66 290.34V301.56M504.76 290.34h1.8M504.76 301.56h1.8"/>
<text class="lt" x="505.66" y="287.94">a</text>
<path class="eb" d="M519.42 287.26V299.04M518.52 287.26h1.8M518.52 299.04h1.8"/>
<text class="lt" x="519.42" y="284.86">a</text>
<path class="eb" d="M533.18 284.46V293.99M532.28 284.46h1.8M532.28 293.99h1.8"/>
<text class="lt" x="533.18" y="282.06">a</text>
<path class="fr" d="M389.5 259.5H545.4V329.6"/>
<path class="ax" d="M389.5 259V329.6"/>
<path class="ax" d="M389 329.6H545.9"/>
<text class="tk" x="383.5" y="331.3">0.0</text>
<text class="tk" x="383.5" y="317.28">0.5</text>
<path class="ax" d="M389.5 315.58h1.2"/>
<text class="tk" x="383.5" y="303.26">1.0</text>
<path class="ax" d="M389.5 301.56h1.2"/>
<text class="tk" x="383.5" y="289.24">1.5</text>
<path class="ax" d="M389.5 287.54h1.2"/>
<text class="tk" x="383.5" y="275.22">2.0</text>
<path class="ax" d="M389.5 273.52h1.2"/>
<text class="tk" x="383.5" y="261.2">2.5</text>
<path class="ax" d="M389.5 259.5h1.2"/>
<text class="yt" transform="translate(373.4 294.55) rotate(-90)">Relative expression</text>
<text class="ti" x="491" y="266.2">Glyma.18G219100.1</text>
<rect x="493.62" y="264.47" width="2.65" height="2.65" fill="#1E96DD"/>
<text class="lg" style="font-size:6.12px" x="497.5" y="267.74">EM</text>
<rect x="510.96" y="264.47" width="2.65" height="2.65" fill="#FF7F27"/>
<text class="lg" style="font-size:6.12px" x="514.74" y="267.74">MM</text>
<rect x="529.83" y="264.47" width="2.65" height="2.65" fill="#A6A6A6"/>
<text class="lg" style="font-size:6.12px" x="533.2" y="267.74">LM</text>
<text class="ct" x="415.48" y="338.9">Leaf</text>
<text class="ct" x="467.45" y="338.9">Stem</text>
<text class="ct" x="519.42" y="338.9">Pod</text>
</g>
<g class="panel">
<rect x="28.99" y="405.21" width="13.87" height="8.19" fill="#1E96DD"/>
<rect x="42.86" y="370.98" width="13.87" height="42.42" fill="#FF7F27"/>
<rect x="56.74" y="363.7" width="13.87" height="49.7" fill="#A6A6A6"/>
<rect x="81.39" y="409.83" width="13.87" height="3.57" fill="#1E96DD"/>
<rect x="95.26" y="405.21" width="13.87" height="8.19" fill="#FF7F27"/>
<rect x="109.14" y="404.37" width="13.87" height="9.03" fill="#A6A6A6"/>
<rect x="133.79" y="399.61" width="13.87" height="13.79" fill="#1E96DD"/>
<rect x="147.66" y="393.1" width="13.87" height="20.3" fill="#FF7F27"/>
<rect x="161.54" y="385.4" width="13.87" height="28" fill="#A6A6A6"/>
<path class="eb" d="M35.93 399.96V410.46M35.03 399.96h1.8M35.03 410.46h1.8"/>
<text class="lt" x="35.93" y="397.56">ef</text>
<path class="eb" d="M49.8 364.33V377.63M48.9 364.33h1.8M48.9 377.63h1.8"/>
<text class="lt" x="49.8" y="361.93">b</text>
<path class="eb" d="M63.67 357.75V369.65M62.77 357.75h1.8M62.77 369.65h1.8"/>
<text class="lt" x="63.67" y="355.35">a</text>
<path class="eb" d="M88.33 408.08V411.58M87.43 408.08h1.8M87.43 411.58h1.8"/>
<text class="lt" x="88.33" y="405.68">f</text>
<path class="eb" d="M102.2 403.6V406.82M101.3 403.6h1.8M101.3 406.82h1.8"/>
<text class="lt" x="102.2" y="401.2">ef</text>
<path class="eb" d="M116.07 401.92V406.82M115.17 401.92h1.8M115.17 406.82h1.8"/>
<text class="lt" x="116.07" y="399.52">ef</text>
<path class="eb" d="M140.73 397.16V402.06M139.83 397.16h1.8M139.83 402.06h1.8"/>
<text class="lt" x="140.73" y="394.76">de</text>
<path class="eb" d="M154.6 389.6V396.6M153.7 389.6h1.8M153.7 396.6h1.8"/>
<text class="lt" x="154.6" y="387.2">c</text>
<path class="eb" d="M168.47 383.09V387.71M167.57 383.09h1.8M167.57 387.71h1.8"/>
<text class="lt" x="168.47" y="380.69">d</text>
<path class="fr" d="M23.6 343.4H180.8V413.4"/>
<path class="ax" d="M23.6 342.9V413.4"/>
<path class="ax" d="M23.1 413.4H181.3"/>
<text class="tk" x="17.4" y="415.1">0</text>
<text class="tk" x="17.4" y="401.1">2</text>
<path class="ax" d="M23.6 399.4h1.2"/>
<text class="tk" x="17.4" y="387.1">4</text>
<path class="ax" d="M23.6 385.4h1.2"/>
<text class="tk" x="17.4" y="373.1">6</text>
<path class="ax" d="M23.6 371.4h1.2"/>
<text class="tk" x="17.4" y="359.1">8</text>
<path class="ax" d="M23.6 357.4h1.2"/>
<text class="tk" x="17.4" y="345.1">10</text>
<path class="ax" d="M23.6 343.4h1.2"/>
<text class="yt" transform="translate(8.6 378.4) rotate(-90)">Relative expression</text>
<text class="ti" x="128.4" y="350.1">Glyma.19G158400.1</text>
<rect x="129.5" y="348.1" width="2.6" height="2.6" fill="#1E96DD"/>
<text class="lg" style="font-size:6px" x="133.3" y="351.3">EM</text>
<rect x="146.5" y="348.1" width="2.6" height="2.6" fill="#FF7F27"/>
<text class="lg" style="font-size:6px" x="150.2" y="351.3">MM</text>
<rect x="165" y="348.1" width="2.6" height="2.6" fill="#A6A6A6"/>
<text class="lg" style="font-size:6px" x="168.3" y="351.3">LM</text>
<text class="ct" x="49.8" y="422.7">Leaf</text>
<text class="ct" x="102.2" y="422.7">Stem</text>
<text class="ct" x="154.6" y="422.7">Pod</text>
</g>
<g class="panel">
<rect x="211.96" y="403.25" width="13.79" height="10.15" fill="#1E96DD"/>
<rect x="225.75" y="398.35" width="13.79" height="15.05" fill="#FF7F27"/>
<rect x="239.55" y="399.4" width="13.79" height="14" fill="#A6A6A6"/>
<rect x="264.06" y="371.75" width="13.79" height="41.65" fill="#1E96DD"/>
<rect x="277.85" y="372.1" width="13.79" height="41.3" fill="#FF7F27"/>
<rect x="291.65" y="377.35" width="13.79" height="36.05" fill="#A6A6A6"/>
<rect x="316.16" y="384.35" width="13.79" height="29.05" fill="#1E96DD"/>
<rect x="329.95" y="386.1" width="13.79" height="27.3" fill="#FF7F27"/>
<rect x="343.75" y="383.3" width="13.79" height="30.1" fill="#A6A6A6"/>
<path class="eb" d="M218.86 401.5V405M217.96 401.5h1.8M217.96 405h1.8"/>
<text class="lt" x="218.86" y="399.1">d</text>
<path class="eb" d="M232.65 396.25V400.45M231.75 396.25h1.8M231.75 400.45h1.8"/>
<text class="lt" x="232.65" y="393.85">d</text>
<path class="eb" d="M246.44 397.65V401.15M245.54 397.65h1.8M245.54 401.15h1.8"/>
<text class="lt" x="246.44" y="395.25">d</text>
<path class="eb" d="M270.96 367.2V376.3M270.06 367.2h1.8M270.06 376.3h1.8"/>
<text class="lt" x="270.96" y="364.8">a</text>
<path class="eb" d="M284.75 364.05V380.15M283.85 364.05h1.8M283.85 380.15h1.8"/>
<text class="lt" x="284.75" y="361.65">a</text>
<path class="eb" d="M298.54 370.7V384M297.64 370.7h1.8M297.64 384h1.8"/>
<text class="lt" x="298.54" y="368.3">ab</text>
<path class="eb" d="M323.06 380.5V388.2M322.16 380.5h1.8M322.16 388.2h1.8"/>
<text class="lt" x="323.06" y="378.1">bc</text>
<path class="eb" d="M336.85 379.8V392.4M335.95 379.8h1.8M335.95 392.4h1.8"/>
<text class="lt" x="336.85" y="377.4">c</text>
<path class="eb" d="M350.64 380.5V386.1M349.74 380.5h1.8M349.74 386.1h1.8"/>
<text class="lt" x="350.64" y="378.1">bc</text>
<path class="fr" d="M206.6 343.4H362.9V413.4"/>
<path class="ax" d="M206.6 342.9V413.4"/>
<path class="ax" d="M206.1 413.4H363.4"/>
<text class="tk" x="200.3" y="415.1">0.0</text>
<text class="tk" x="200.3" y="397.6">0.5</text>
<path class="ax" d="M206.6 395.9h1.2"/>
<text class="tk" x="200.3" y="380.1">1.0</text>
<path class="ax" d="M206.6 378.4h1.2"/>
<text class="tk" x="200.3" y="362.6">1.5</text>
<path class="ax" d="M206.6 360.9h1.2"/>
<text class="tk" x="200.3" y="345.1">2.0</text>
<path class="ax" d="M206.6 343.4h1.2"/>
<text class="yt" transform="translate(189.7 378.4) rotate(-90)">Relative expression</text>
<text class="ti" x="308.9" y="350.1">Glyma.19G161000.2</text>
<rect x="313.1" y="348.1" width="2.6" height="2.6" fill="#1E96DD"/>
<text class="lg" style="font-size:6px" x="316.9" y="351.3">EM</text>
<rect x="330.1" y="348.1" width="2.6" height="2.6" fill="#FF7F27"/>
<text class="lg" style="font-size:6px" x="333.8" y="351.3">MM</text>
<rect x="348.6" y="348.1" width="2.6" height="2.6" fill="#A6A6A6"/>
<text class="lg" style="font-size:6px" x="351.9" y="351.3">LM</text>
<text class="ct" x="232.65" y="422.7">Leaf</text>
<text class="ct" x="284.75" y="422.7">Stem</text>
<text class="ct" x="336.85" y="422.7">Pod</text>
</g>
<g class="panel">
<rect x="394.85" y="381.67" width="13.76" height="31.73" fill="#1E96DD"/>
<rect x="408.6" y="379.57" width="13.76" height="33.83" fill="#FF7F27"/>
<rect x="422.36" y="375.13" width="13.76" height="38.27" fill="#A6A6A6"/>
<rect x="446.81" y="378.87" width="13.76" height="34.53" fill="#1E96DD"/>
<rect x="460.57" y="385.4" width="13.76" height="28" fill="#FF7F27"/>
<rect x="474.33" y="380.03" width="13.76" height="33.37" fill="#A6A6A6"/>
<rect x="498.78" y="388.43" width="13.76" height="24.97" fill="#1E96DD"/>
<rect x="512.54" y="382.37" width="13.76" height="31.03" fill="#FF7F27"/>
<rect x="526.3" y="365.57" width="13.76" height="47.83" fill="#A6A6A6"/>
<path class="eb" d="M401.72 378.17V385.17M400.82 378.17h1.8M400.82 385.17h1.8"/>
<text class="lt" x="401.72" y="375.77">bcd</text>
<path class="eb" d="M415.48 375.13V384M414.58 375.13h1.8M414.58 384h1.8"/>
<text class="lt" x="415.48" y="372.73">bcd</text>
<path class="eb" d="M429.24 370.47V379.8M428.34 370.47h1.8M428.34 379.8h1.8"/>
<text class="lt" x="429.24" y="368.07">b</text>
<path class="eb" d="M453.69 374.2V383.53M452.79 374.2h1.8M452.79 383.53h1.8"/>
<text class="lt" x="453.69" y="370.6">bc</text>
<path class="eb" d="M467.45 380.5V390.3M466.55 380.5h1.8M466.55 390.3h1.8"/>
<text class="lt" x="467.45" y="378.1">cd</text>
<path class="eb" d="M481.21 376.53V383.53M480.31 376.53h1.8M480.31 383.53h1.8"/>
<text class="lt" x="481.21" y="374.13">bcd</text>
<path class="eb" d="M505.66 385.17V391.7M504.76 385.17h1.8M504.76 391.7h1.8"/>
<text class="lt" x="505.66" y="382.77">d</text>
<path class="eb" d="M519.42 376.07V388.67M518.52 376.07h1.8M518.52 388.67h1.8"/>
<text class="lt" x="519.42" y="373.67">bcd</text>
<path class="eb" d="M533.18 357.87V373.27M532.28 357.87h1.8M532.28 373.27h1.8"/>
<text class="lt" x="533.18" y="355.47">a</text>
<path class="fr" d="M389.5 343.4H545.4V413.4"/>
<path class="ax" d="M389.5 342.9V413.4"/>
<path class="ax" d="M389 413.4H545.9"/>
<text class="tk" x="383.5" y="415.1">0.0</text>
<text class="tk" x="383.5" y="391.77">1.0</text>
<path class="ax" d="M389.5 390.07h1.2"/>
<text class="tk" x="383.5" y="368.43">2.0</text>
<path class="ax" d="M389.5 366.73h1.2"/>
<text class="tk" x="383.5" y="345.1">3.0</text>
<path class="ax" d="M389.5 343.4h1.2"/>
<text class="yt" transform="translate(373.4 378.4) rotate(-90)">Relative expression</text>
<text class="ti" x="491" y="350.1">Glyma.19G164800.1</text>
<rect x="491.37" y="348.02" width="2.76" height="2.76" fill="#1E96DD"/>
<text class="lg" style="font-size:5.72px" x="495.4" y="351.41">EM</text>
<rect x="509.39" y="348.02" width="2.76" height="2.76" fill="#FF7F27"/>
<text class="lg" style="font-size:5.72px" x="513.31" y="351.41">MM</text>
<rect x="529" y="348.02" width="2.76" height="2.76" fill="#A6A6A6"/>
<text class="lg" style="font-size:5.72px" x="532.5" y="351.41">LM</text>
<text class="ct" x="415.48" y="422.7">Leaf</text>
<text class="ct" x="467.45" y="422.7">Stem</text>
<text class="ct" x="519.42" y="422.7">Pod</text>
</g>
<g class="panel">
<rect x="28.99" y="488.22" width="13.87" height="8.18" fill="#1E96DD"/>
<rect x="42.86" y="490.18" width="13.87" height="6.22" fill="#FF7F27"/>
<rect x="56.74" y="489.83" width="13.87" height="6.57" fill="#A6A6A6"/>
<rect x="81.39" y="445.37" width="13.87" height="51.03" fill="#1E96DD"/>
<rect x="95.26" y="460.75" width="13.87" height="35.65" fill="#FF7F27"/>
<rect x="109.14" y="462.15" width="13.87" height="34.25" fill="#A6A6A6"/>
<rect x="133.79" y="488.43" width="13.87" height="7.97" fill="#1E96DD"/>
<rect x="147.66" y="486.4" width="13.87" height="10" fill="#FF7F27"/>
<rect x="161.54" y="487.59" width="13.87" height="8.81" fill="#A6A6A6"/>
<path class="eb" d="M35.93 487.52V488.92M35.03 487.52h1.8M35.03 488.92h1.8"/>
<text class="lt" x="35.93" y="485.12">c</text>
<path class="eb" d="M49.8 489.48V490.88M48.9 489.48h1.8M48.9 490.88h1.8"/>
<text class="lt" x="49.8" y="487.08">c</text>
<path class="eb" d="M63.67 489.13V490.53M62.77 489.13h1.8M62.77 490.53h1.8"/>
<text class="lt" x="63.67" y="486.73">c</text>
<path class="eb" d="M88.33 439.78V450.96M87.43 439.78h1.8M87.43 450.96h1.8"/>
<text class="lt" x="88.33" y="439.38">a</text>
<path class="eb" d="M102.2 454.81V466.69M101.3 454.81h1.8M101.3 466.69h1.8"/>
<text class="lt" x="102.2" y="452.41">b</text>
<path class="eb" d="M116.07 455.86V468.44M115.17 455.86h1.8M115.17 468.44h1.8"/>
<text class="lt" x="116.07" y="453.46">b</text>
<path class="eb" d="M140.73 482.49V494.37M139.83 482.49h1.8M139.83 494.37h1.8"/>
<text class="lt" x="140.73" y="480.09">c</text>
<path class="eb" d="M154.6 481.16V491.65M153.7 481.16h1.8M153.7 491.65h1.8"/>
<text class="lt" x="154.6" y="478.76">c</text>
<path class="eb" d="M168.47 482.35V492.84M167.57 482.35h1.8M167.57 492.84h1.8"/>
<text class="lt" x="168.47" y="479.95">c</text>
<path class="frl" d="M23.6 425.9H180.7V496.4"/>
<path class="ax" d="M23.6 426V496.4"/>
<path class="ax" d="M23.1 496.4H181.3"/>
<text class="tk" x="17.4" y="498.1">0</text>
<text class="tk" x="17.4" y="484.12">2</text>
<path class="ax" d="M23.6 482.42h1.2"/>
<text class="tk" x="17.4" y="470.14">4</text>
<path class="ax" d="M23.6 468.44h1.2"/>
<text class="tk" x="17.4" y="456.16">6</text>
<path class="ax" d="M23.6 454.46h1.2"/>
<text class="tk" x="17.4" y="442.18">8</text>
<path class="ax" d="M23.6 440.48h1.2"/>
<text class="tk" x="17.4" y="428.2">10</text>
<path class="ax" d="M23.6 426.5h1.2"/>
<text class="yt" transform="translate(8.6 461.45) rotate(-90)">Relative expression</text>
<text class="ti" x="125.4" y="433">Glyma.19g166700.1</text>
<rect x="129.02" y="430.57" width="2.65" height="2.65" fill="#1E96DD"/>
<text class="lg" style="font-size:6.12px" x="132.9" y="433.84">EM</text>
<rect x="146.36" y="430.57" width="2.65" height="2.65" fill="#FF7F27"/>
<text class="lg" style="font-size:6.12px" x="150.14" y="433.84">MM</text>
<rect x="165.23" y="430.57" width="2.65" height="2.65" fill="#A6A6A6"/>
<text class="lg" style="font-size:6.12px" x="168.6" y="433.84">LM</text>
<text class="ct" x="49.8" y="505.7">Leaf</text>
<text class="ct" x="102.2" y="505.7">Stem</text>
<text class="ct" x="154.6" y="505.7">Pod</text>
</g>
<g class="panel">
<rect x="210.8" y="472.21" width="13.9" height="24.19" fill="#1E96DD"/>
<rect x="224.7" y="473.43" width="13.9" height="22.97" fill="#FF7F27"/>
<rect x="238.6" y="452.13" width="13.9" height="44.27" fill="#A6A6A6"/>
<rect x="263.3" y="481.95" width="13.9" height="14.45" fill="#1E96DD"/>
<rect x="277.2" y="478.83" width="13.9" height="17.57" fill="#FF7F27"/>
<rect x="291.1" y="475.24" width="13.9" height="21.16" fill="#A6A6A6"/>
<rect x="315.8" y="490.2" width="13.9" height="6.2" fill="#1E96DD"/>
<rect x="329.7" y="490.02" width="13.9" height="6.38" fill="#FF7F27"/>
<rect x="343.6" y="489.83" width="13.9" height="6.57" fill="#A6A6A6"/>
<path class="eb" d="M217.75 468.02V476.41M216.85 468.02h1.8M216.85 476.41h1.8"/>
<text class="lt" x="217.75" y="465.62">b</text>
<path class="eb" d="M231.65 468.3V478.55M230.75 468.3h1.8M230.75 478.55h1.8"/>
<text class="lt" x="231.65" y="465.9">b</text>
<path class="eb" d="M245.55 444.67V459.59M244.65 444.67h1.8M244.65 459.59h1.8"/>
<text class="lt" x="245.55" y="442.27">a</text>
<path class="eb" d="M270.25 480.09V483.82M269.35 480.09h1.8M269.35 483.82h1.8"/>
<text class="lt" x="270.25" y="477.69">c</text>
<path class="eb" d="M284.15 474.17V483.49M283.25 474.17h1.8M283.25 483.49h1.8"/>
<text class="lt" x="284.15" y="471.77">bc</text>
<path class="eb" d="M298.05 471.05V479.44M297.15 471.05h1.8M297.15 479.44h1.8"/>
<text class="lt" x="298.05" y="468.65">bc</text>
<path class="eb" d="M322.75 489.5V490.9M321.85 489.5h1.8M321.85 490.9h1.8"/>
<text class="lt" x="322.75" y="487.1">d</text>
<path class="eb" d="M336.65 489.32V490.71M335.75 489.32h1.8M335.75 490.71h1.8"/>
<text class="lt" x="336.65" y="486.92">d</text>
<path class="eb" d="M350.55 489.13V490.53M349.65 489.13h1.8M349.65 490.53h1.8"/>
<text class="lt" x="350.55" y="486.73">d</text>
<path class="frl" d="M205.4 425.9H362.8V496.4"/>
<path class="ax" d="M205.4 426V496.4"/>
<path class="ax" d="M204.9 496.4H363.4"/>
<text class="tk" x="199.2" y="498.1">0</text>
<text class="tk" x="199.2" y="474.8">5</text>
<path class="ax" d="M205.4 473.1h1.2"/>
<text class="tk" x="199.2" y="451.5">10</text>
<path class="ax" d="M205.4 449.8h1.2"/>
<text class="tk" x="199.2" y="428.2">15</text>
<path class="ax" d="M205.4 426.5h1.2"/>
<text class="yt" transform="translate(189.7 461.45) rotate(-90)">Relative expression</text>
<text class="ti" x="308.8" y="433.4">Glyma.19G175700.1</text>
<rect x="311.12" y="430.57" width="2.65" height="2.65" fill="#1E96DD"/>
<text class="lg" style="font-size:6.12px" x="315" y="433.84">EM</text>
<rect x="328.46" y="430.57" width="2.65" height="2.65" fill="#FF7F27"/>
<text class="lg" style="font-size:6.12px" x="332.24" y="433.84">MM</text>
<rect x="347.33" y="430.57" width="2.65" height="2.65" fill="#A6A6A6"/>
<text class="lg" style="font-size:6.12px" x="350.7" y="433.84">LM</text>
<text class="ct" x="231.65" y="505.7">Leaf</text>
<text class="ct" x="284.15" y="505.7">Stem</text>
<text class="ct" x="336.65" y="505.7">Pod</text>
</g>
<g class="panel">
<rect x="394.85" y="465.29" width="13.76" height="31.11" fill="#1E96DD"/>
<rect x="408.6" y="454.11" width="13.76" height="42.29" fill="#FF7F27"/>
<rect x="422.36" y="459.7" width="13.76" height="36.7" fill="#A6A6A6"/>
<rect x="446.81" y="453.41" width="13.76" height="42.99" fill="#1E96DD"/>
<rect x="460.57" y="453.41" width="13.76" height="42.99" fill="#FF7F27"/>
<rect x="474.33" y="462.15" width="13.76" height="34.25" fill="#A6A6A6"/>
<rect x="498.78" y="459.7" width="13.76" height="36.7" fill="#1E96DD"/>
<rect x="512.54" y="465.29" width="13.76" height="31.11" fill="#FF7F27"/>
<rect x="526.3" y="479.62" width="13.76" height="16.78" fill="#A6A6A6"/>
<path class="eb" d="M401.72 459V471.59M400.82 459h1.8M400.82 471.59h1.8"/>
<text class="lt" x="401.72" y="456.6">b</text>
<path class="eb" d="M415.48 446.42V461.8M414.58 446.42h1.8M414.58 461.8h1.8"/>
<text class="lt" x="415.48" y="444.02">a</text>
<path class="eb" d="M429.24 453.76V465.64M428.34 453.76h1.8M428.34 465.64h1.8"/>
<text class="lt" x="429.24" y="451.36">ab</text>
<path class="eb" d="M453.69 451.31V455.51M452.79 451.31h1.8M452.79 455.51h1.8"/>
<text class="lt" x="453.69" y="448.91">a</text>
<path class="eb" d="M467.45 451.31V455.51M466.55 451.31h1.8M466.55 455.51h1.8"/>
<text class="lt" x="467.45" y="448.91">a</text>
<path class="eb" d="M481.21 459.35V464.94M480.31 459.35h1.8M480.31 464.94h1.8"/>
<text class="lt" x="481.21" y="456.95">b</text>
<path class="eb" d="M505.66 456.21V463.2M504.76 456.21h1.8M504.76 463.2h1.8"/>
<text class="lt" x="505.66" y="453.81">ab</text>
<path class="eb" d="M519.42 462.15V468.44M518.52 462.15h1.8M518.52 468.44h1.8"/>
<text class="lt" x="519.42" y="459.75">b</text>
<path class="eb" d="M533.18 475.08V484.17M532.28 475.08h1.8M532.28 484.17h1.8"/>
<text class="lt" x="533.18" y="472.68">c</text>
<path class="frl" d="M389.5 425.9H545.3V496.4"/>
<path class="ax" d="M389.5 426V496.4"/>
<path class="ax" d="M389 496.4H545.9"/>
<text class="tk" x="383.5" y="498.1">0.0</text>
<text class="tk" x="383.5" y="480.62">0.5</text>
<path class="ax" d="M389.5 478.92h1.2"/>
<text class="tk" x="383.5" y="463.15">1.0</text>
<path class="ax" d="M389.5 461.45h1.2"/>
<text class="tk" x="383.5" y="445.68">1.5</text>
<path class="ax" d="M389.5 443.98h1.2"/>
<text class="tk" x="383.5" y="428.2">2.0</text>
<path class="ax" d="M389.5 426.5h1.2"/>
<text class="yt" transform="translate(373.4 461.45) rotate(-90)">Relative expression</text>
<text class="ti" x="489.8" y="433.5">Glyma.19g198600.1</text>
<rect x="493.14" y="430.66" width="2.68" height="2.68" fill="#1E96DD"/>
<text class="lg" style="font-size:6.18px" x="497.05" y="433.96">EM</text>
<rect x="510.65" y="430.66" width="2.68" height="2.68" fill="#FF7F27"/>
<text class="lg" style="font-size:6.18px" x="514.46" y="433.96">MM</text>
<rect x="529.7" y="430.66" width="2.68" height="2.68" fill="#A6A6A6"/>
<text class="lg" style="font-size:6.18px" x="533.1" y="433.96">LM</text>
<text class="ct" x="415.48" y="505.7">Leaf</text>
<text class="ct" x="467.45" y="505.7">Stem</text>
<text class="ct" x="519.42" y="505.7">Pod</text>
</g>
</svg>
</body></html>
